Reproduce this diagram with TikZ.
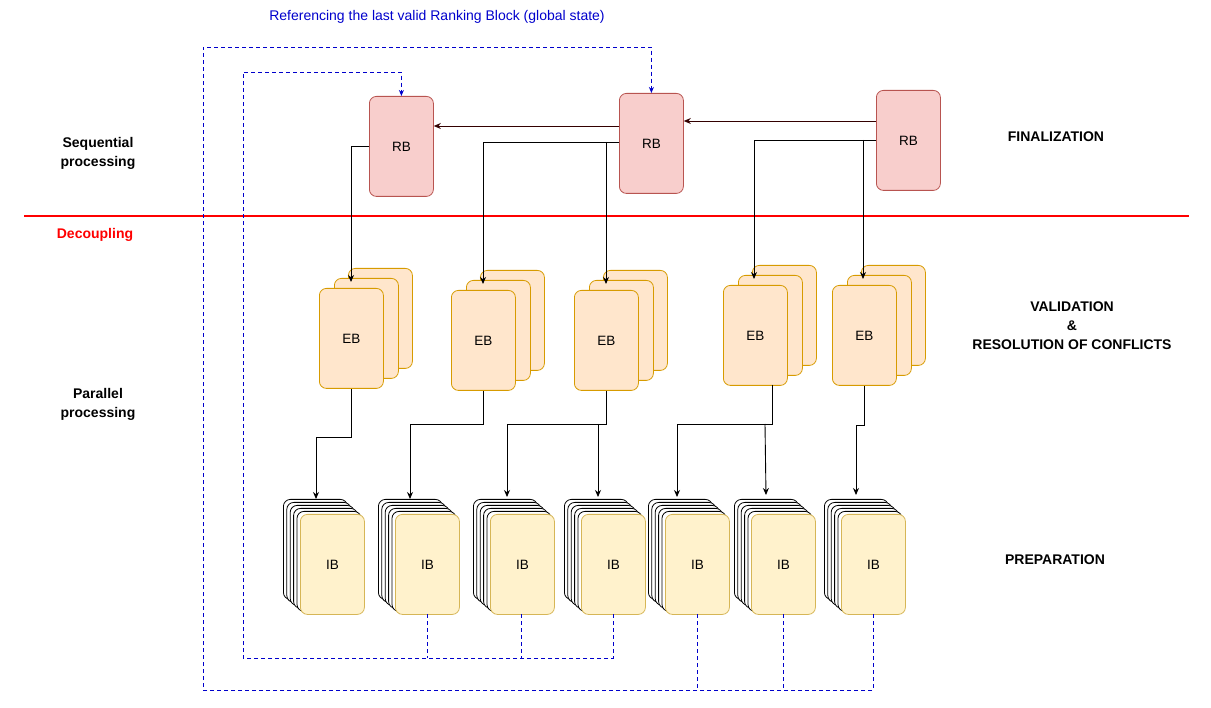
\documentclass[tikz,border=0pt]{standalone}
\usepackage{fontspec}
\setmainfont{Liberation Sans}
\usetikzlibrary{arrows.meta,calc}
\definecolor{rbf}{HTML}{F8CECC}\definecolor{rbd}{HTML}{B85450}
\definecolor{ebf}{HTML}{FFE6CC}\definecolor{ebd}{HTML}{D79B00}
\definecolor{ibf}{HTML}{FFF2CC}\definecolor{ibd}{HTML}{D6B656}
\definecolor{dblue}{HTML}{0000CC}
\definecolor{darr}{HTML}{330000}
\begin{document}
\begin{tikzpicture}[x=1pt,y=-1pt,
 card/.style={draw,rounded corners=7pt,minimum width=64pt,minimum height=100pt,anchor=north west,inner sep=0pt,line width=0.8pt,font=\fontsize{13.5}{16}\selectfont},
 rb/.style={card,fill=rbf,draw=rbd},
 eb/.style={card,fill=ebf,draw=ebd},
 ib/.style={card,fill=ibf,draw=ibd},
 back/.style={card,fill=white,draw=black},
 arr/.style={line width=0.9pt,-{Stealth[length=7pt,width=6pt]}},
 bluedash/.style={color=dblue,line width=0.9pt,dash pattern=on 4pt off 3pt},
 lab/.style={font=\bfseries\fontsize{14}{19}\selectfont,align=center}]
\useasboundingbox (0,0) rectangle (1211,708);
% RB
\node[rb] (rb1) at (369,96) {RB};
\node[rb] (rb2) at (619,93) {RB};
\node[rb] (rb3) at (876,90) {RB};
% EB stacks
\foreach \n/\x/\y in {1/319/288,2/451/290,3/574/290,4/723/285,5/832/285}{
  \node[eb] (eb\n c) at (\x+29,\y-20) {};
  \node[eb] (eb\n b) at (\x+15,\y-10) {};
  \node[eb] (eb\n) at (\x,\y) {EB};
}
% IB stacks
\foreach \n/\x in {1/300,2/395,3/490,4/581,5/665,6/751,7/841}{
  \foreach \k in {5,4,3,2,1}{\node[back] (ib\n b\k) at (\x-3.4*\k,514-3*\k) {};}
  \node[ib] (ib\n) at (\x,514) {IB};
}
% red line
\coordinate (rl) at (24,216); \coordinate (rr) at (1189,216);
\draw[red,line width=1.6pt] (rl) -- (rr);
% RB chain
\draw[arr,draw=darr] (rb3.west |- 0,121) -- (rb2.east |- 0,121);
\draw[arr,draw=darr] (rb2.west |- 0,126) -- (rb1.east |- 0,126);
% RB -> EB
\draw[arr] (rb1.west |- 0,146) -| (351,282);
\draw[arr] (rb2.west |- 0,142) -| (483,284);
\draw[arr] (606,142) -- (606,284);
\draw[arr] (rb3.west |- 0,140) -| (754,279);
\draw[arr] (863,140) -- (863,279);
% EB -> IB
\draw[arr] (eb1.south) -- ++(0,49) -| (316,499);
\draw[arr] (eb2.south) -- ++(0,34) -| (410,499);
\draw[arr] (eb3.south) -- ++(0,34) -| (507,497);
\draw[arr] (598,424) -- (598,497);
\draw[arr] (772,385) -- (772,424) -| (677,497);
\draw[arr] (765,424) -- (766,495);
\draw[arr] (eb5.south) -- ++(0,40) -| (856,495);
% dashed references
\draw[bluedash] (427,614) -- (427,658);
\draw[bluedash] (521,614) -- (521,658);
\draw[bluedash,-{Stealth[length=6pt,width=5pt]}] (613,614) -- (613,658) -- (243,658) -- (243,72) -| (rb1.north);
\draw[bluedash] (697,614) -- (697,690);
\draw[bluedash] (783,614) -- (783,690);
\draw[bluedash,-{Stealth[length=6pt,width=5pt]}] (873,614) -- (873,690) -- (203,690) -- (203,47) -| (rb2.north);
% labels
\node[text=dblue,font=\fontsize{14}{16}\selectfont] (top) at (437,17) {Referencing the last valid Ranking Block (global state)};
\node[lab] (seq) at (98,153) {Sequential\\processing};
\node[lab,text=red] (dec) at (95,235) {Decoupling};
\node[lab] (par) at (98,404) {Parallel\\processing};
\node[lab] (fin) at (1056,137) {FINALIZATION};
\node[lab] (val) at (1072,326) {VALIDATION\\\&\\RESOLUTION OF CONFLICTS};
\node[lab] (prep) at (1055,560) {PREPARATION};
\end{tikzpicture}
\end{document}
